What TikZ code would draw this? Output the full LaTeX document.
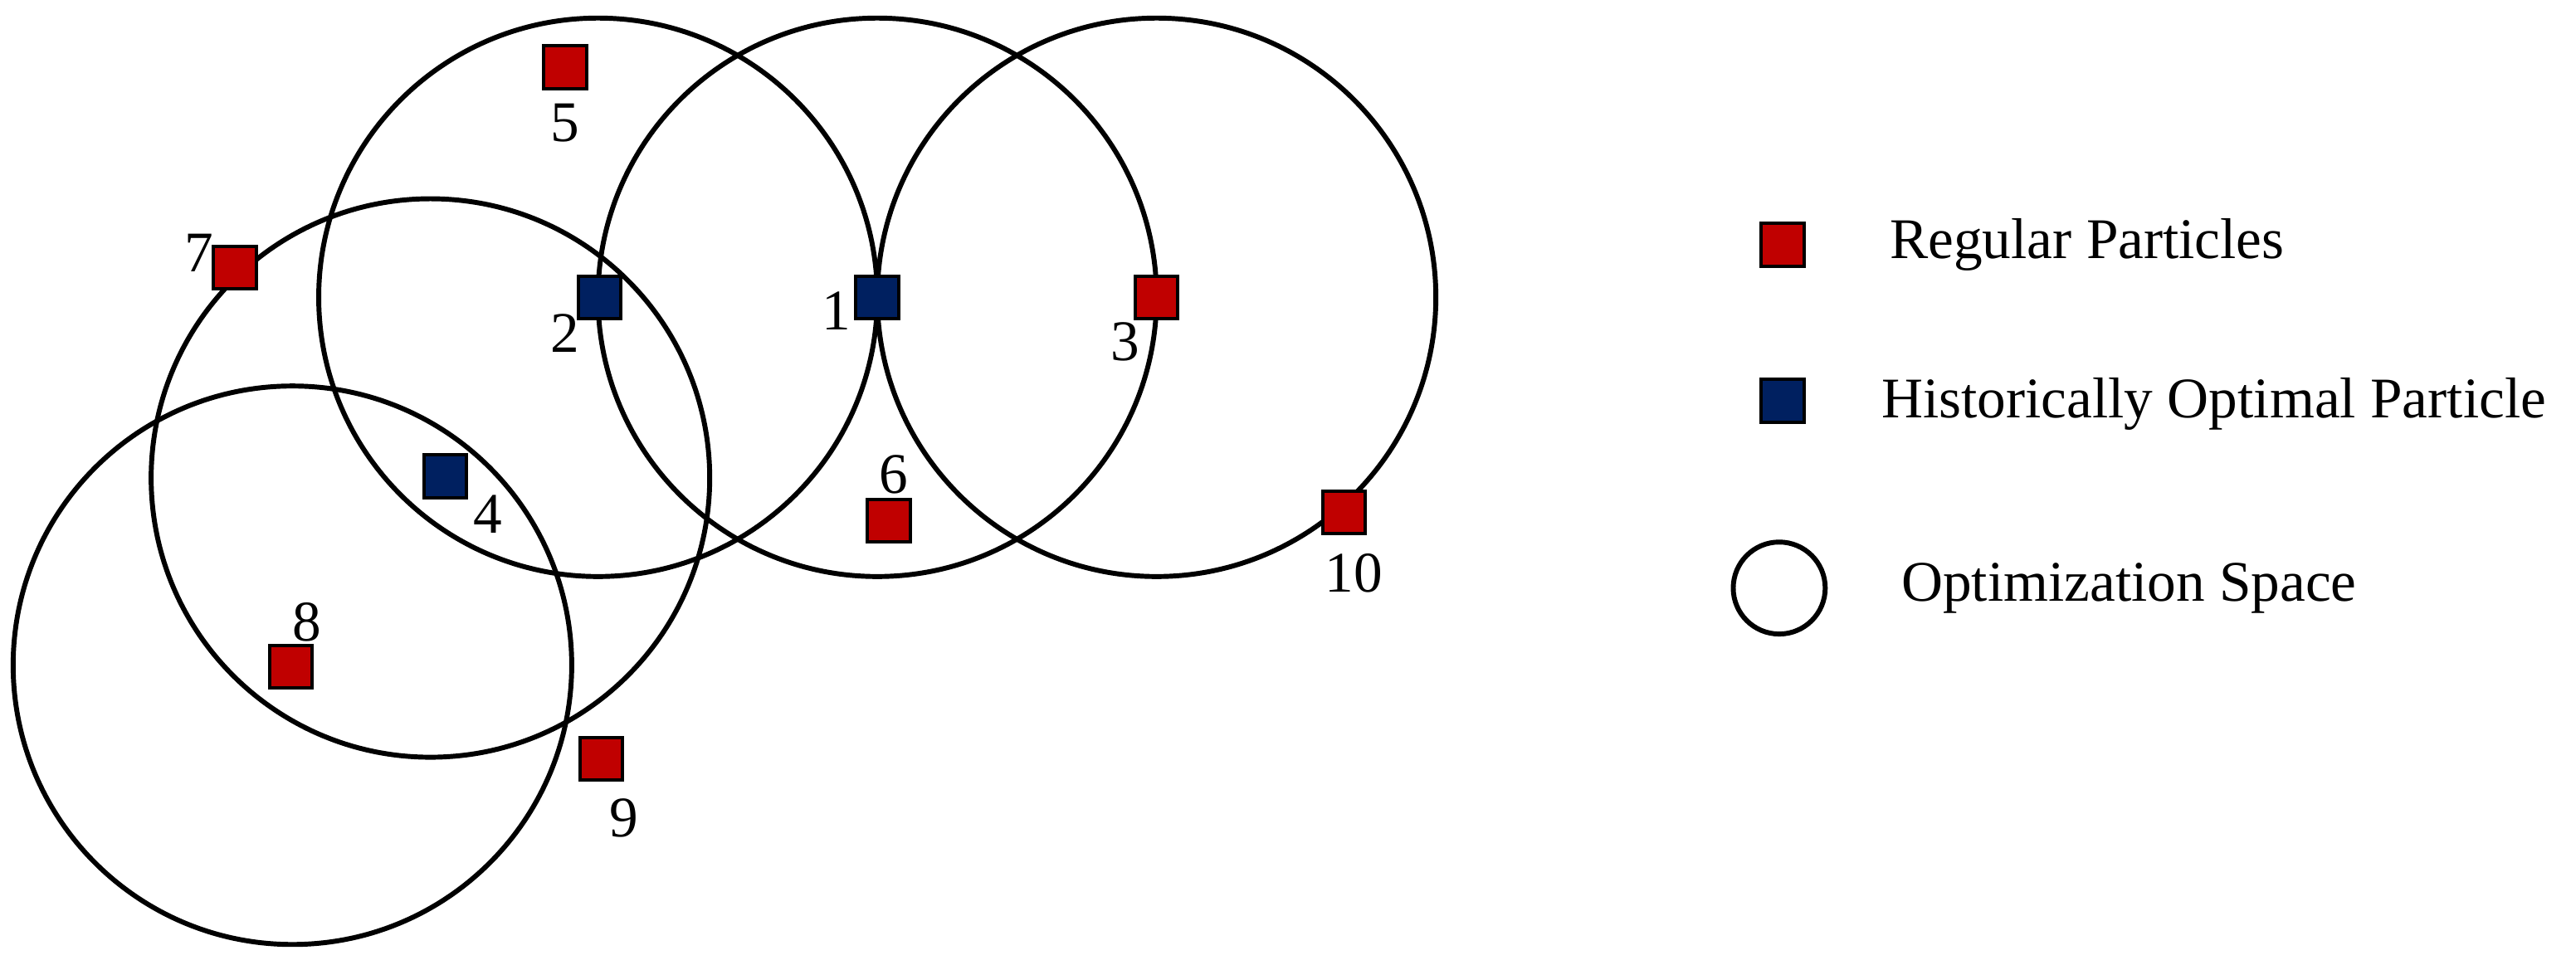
\documentclass[tikz,border=0pt]{standalone}
\usepackage{fontspec}
\setmainfont{Liberation Serif}
\begin{document}
\begin{tikzpicture}[x=0.5pt,y=-0.5pt,
  space/.style={draw=black,line width=1.5pt},
  reg/.style={draw=black,line width=1pt,fill={rgb,255:red,192;green,0;blue,0},minimum size=13pt,inner sep=0pt},
  hist/.style={draw=black,line width=1pt,fill={rgb,255:red,0;green,32;blue,96},minimum size=13pt,inner sep=0pt},
  lab/.style={font=\fontsize{17.5}{20}\selectfont,inner sep=0pt},
  leg/.style={font=\fontsize{17.5}{20}\selectfont,inner sep=0pt,anchor=west}]
\useasboundingbox (0,0) rectangle (1568,587);
\draw[space] (364,181) circle (170);
\draw[space] (534,181) circle (170);
\draw[space] (704,181) circle (170);
\draw[space] (262,291) circle (170);
\draw[space] (178,405) circle (170);
\node[reg] (p5) at (344,41) {};
\node[reg] (p7) at (143,163) {};
\node[hist] (p2) at (365,181) {};
\node[hist] (p1) at (534,181) {};
\node[reg] (p3) at (704,181) {};
\node[hist] (p4) at (271,290) {};
\node[reg] (p6) at (541,317) {};
\node[reg] (p10) at (818,312) {};
\node[reg] (p8) at (177,406) {};
\node[reg] (p9) at (366,462) {};
\node[lab] (l5) at (344,75) {5};
\node[lab] (l7) at (121,154) {7};
\node[lab] (l2) at (344,203) {2};
\node[lab] (l1) at (509,189) {1};
\node[lab] (l3) at (685,208) {3};
\node[lab] (l4) at (297,313) {4};
\node[lab] (l6) at (544,289) {6};
\node[lab] (l10) at (824,349) {10};
\node[lab] (l8) at (187,379) {8};
\node[lab] (l9) at (380,498) {9};
\node[reg] (k1) at (1085,149) {};
\node[leg] (t1) at (1150,149) {Regular Particles};
\node[hist] (k2) at (1085,244) {};
\node[leg] (t2) at (1145,246) {Historically Optimal Particle};
\draw[line width=1.5pt] (1083,358) circle (28);
\node[leg] (t3) at (1157,358) {Optimization Space};
\end{tikzpicture}
\end{document}
